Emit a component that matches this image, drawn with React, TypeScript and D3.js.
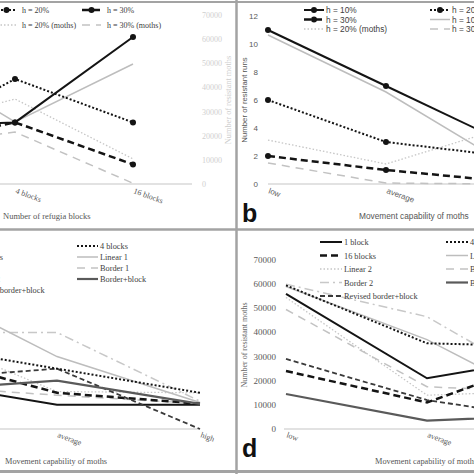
import React, { useEffect, useRef } from 'react';
import * as d3 from 'd3';

// panel a: number of refugia blocks
const refugiaBlocks = ['1 block', '4 blocks', '16 blocks'];
const runsA10 = [4, 4.4, 10.5];
const runsA20 = [3, 7.5, 4.4];
const runsA30 = [2.7, 4.4, 1.4];
const mothsA10 = [55000, 25700, 49700];
const mothsA20 = [22400, 35200, 10400];
const mothsA30 = [15000, 21500, 300];

// panel b: movement capability, by heritability
const capability = ['low', 'average', 'high'];
const runsB10 = [11, 7, 3];
const runsB20 = [6, 3, 2];
const runsB30 = [2, 1, 0.2];
const mothsB10 = [61700, 38100, 8700];
const mothsB20 = [18200, 8300, 23200];
const mothsB30 = [8700, 400, 0];

// panels c and d: refuge layouts
const layoutNames = ['1 block', '16 blocks', 'Linear 2', 'Border 2', 'Revised border+block', '4 blocks', 'Linear 1', 'Border 1', 'Border+block'];
const layoutsC = [
  [20000, 10000, 10000],
  [31000, 15000, 10500],
  [40000, 15500, 15000],
  [40000, 40000, 11500],
  [20500, 25000, 0],
  [35000, 25000, 15000],
  [60000, 30000, 11000],
  [18000, 14000, 10500],
  [16000, 20000, 10400],
];
const layoutsD = [
  [56000, 21000, 31000],
  [24000, 11000, 32000],
  [54500, 14000, 16000],
  [60000, 46500, 13000],
  [29000, 12000, 3000],
  [59500, 35500, 34000],
  [59000, 37000, 7000],
  [49500, 17500, 15000],
  [14500, 3500, 6000],
];
const layoutStyles = ['blackSolid', 'blackDashed', 'greyDotted', 'greyDashDot', 'darkDashed', 'blackDotted', 'greySolid', 'greyDashed', 'darkSolid'];

const lineStyles: Record<string, { stroke: string; width: number; dash: string }> = {
  blackSolid: { stroke: '#141414', width: 2, dash: '' },
  blackDotted: { stroke: '#141414', width: 2, dash: '2,2' },
  blackDashed: { stroke: '#141414', width: 2.5, dash: '7,4' },
  greySolid: { stroke: '#bdbdbd', width: 1.5, dash: '' },
  greyDotted: { stroke: '#c6c6c6', width: 1.3, dash: '1.5,2' },
  greyDashed: { stroke: '#c2c2c2', width: 1.5, dash: '8,6' },
  greyDashDot: { stroke: '#c8c8c8', width: 1.5, dash: '9,4,2,4' },
  darkSolid: { stroke: '#5a5a5a', width: 2.2, dash: '' },
  darkDashed: { stroke: '#3a3a3a', width: 1.8, dash: '5,3' },
};

const SERIF = '"Liberation Serif", "DejaVu Serif", serif';
const SANS = '"Liberation Sans", Arial, sans-serif';
const W = 474;

type Series = { values: number[]; style: string; axis: 'left' | 'right'; marker?: boolean };
type LegendItem = { label: string; style: string; marker?: boolean; col: number; row: number };

function strokeLine(sel: any, key: string) {
  const s = lineStyles[key];
  return sel
    .attr('fill', 'none')
    .attr('stroke', s.stroke)
    .attr('stroke-width', s.width)
    .attr('stroke-dasharray', s.dash || null);
}

function drawPanel(root: any, p: any) {
  const g = root.append('g');
  const x = d3.scalePoint<string>().domain(p.cats).range(p.xRange);
  const yL = d3.scaleLinear().domain(p.leftDomain).range([p.baseY, p.topY]);
  const yR = d3.scaleLinear().domain([0, 70000]).range([p.baseY, p.topYRight]);

  g.append('line')
    .attr('x1', p.axisExtent[0]).attr('x2', p.axisExtent[1])
    .attr('y1', p.baseY).attr('y2', p.baseY)
    .attr('stroke', '#d9d9d9').attr('stroke-width', 1.5);

  // tick labels
  if (p.leftTicks) {
    const t = p.leftTicks;
    g.selectAll('.lt').data(yL.ticks(7)).enter().append('text')
      .attr('x', t.x).attr('y', (d: number) => yL(d) + 3)
      .attr('text-anchor', t.anchor)
      .style('font-family', p.font).style('font-size', t.size + 'px')
      .attr('fill', t.color)
      .text((d: number) => d);
  }
  if (p.rightTicks) {
    const t = p.rightTicks;
    g.selectAll('.rt').data(yR.ticks(7)).enter().append('text')
      .attr('x', t.x).attr('y', (d: number) => yR(d) + 3)
      .attr('text-anchor', t.anchor)
      .style('font-family', p.font).style('font-size', t.size + 'px')
      .attr('fill', t.color)
      .text((d: number) => d);
  }

  (p.axisTitles || []).forEach((t: any) => {
    g.append('text')
      .attr('transform', `translate(${t.x},${t.y}) rotate(${t.rotate || 0})`)
      .attr('text-anchor', t.anchor || 'start')
      .style('font-family', p.font).style('font-size', t.size + 'px')
      .attr('fill', t.color)
      .text(t.text);
  });

  // category labels, slanted; the ones outside the frame are skipped
  const shownCats = p.cats.filter((d: string) => (x(d) as number) >= 0 && (x(d) as number) < W);
  g.selectAll('.cat').data(shownCats).enter().append('text')
    .attr('transform', (d: string) => `translate(${x(d)},${p.catY}) rotate(20)`)
    .style('font-family', p.font).style('font-size', '8px')
    .attr('fill', '#5a5a5a')
    .text((d: string) => d);

  const series: Series[] = p.series;
  series.forEach((s) => {
    const y = s.axis === 'left' ? yL : yR;
    const line = d3.line<number>()
      .x((_, i) => x(p.cats[i]) as number)
      .y((d) => y(d));
    strokeLine(g.append('path').datum(s.values).attr('d', line), s.style);
    if (s.marker) {
      g.selectAll(null).data(s.values).enter().append('circle')
        .attr('cx', (_: number, i: number) => x(p.cats[i]) as number)
        .attr('cy', (d: number) => y(d))
        .attr('r', 3)
        .attr('fill', lineStyles[s.style].stroke);
    }
  });

  const lg = p.legend;
  (lg.items as LegendItem[]).forEach((it) => {
    const tx = lg.cols[it.col];
    const ly = lg.y0 + it.row * lg.dy;
    strokeLine(
      g.append('line').attr('x1', tx - lg.segLen - lg.gap).attr('x2', tx - lg.gap).attr('y1', ly).attr('y2', ly),
      it.style
    );
    if (it.marker) {
      g.append('circle').attr('cx', tx - lg.gap - lg.segLen / 2).attr('cy', ly).attr('r', 3)
        .attr('fill', lineStyles[it.style].stroke);
    }
    const label = g.append('text')
      .attr('x', tx).attr('y', ly + 3)
      .style('font-family', p.font).style('font-size', lg.size + 'px')
      .attr('fill', '#404040')
      .text(it.label);
    // drop labels that end left of the frame
    const box = (label.node() as SVGTextElement).getBBox();
    if (box.x + box.width < 0) label.remove();
  });

  if (p.letter) {
    g.append('text')
      .attr('x', p.letter.x).attr('y', p.letter.y)
      .style('font-family', SANS).style('font-size', '25px').style('font-weight', 'bold')
      .attr('fill', '#111')
      .text(p.letter.text);
  }
}

const layoutLegend = layoutNames.map((label, i) => ({
  label,
  style: layoutStyles[i],
  col: i < 5 ? 0 : 1,
  row: i < 5 ? i : i - 5,
}));
const layoutSeries = (rows: number[][]): Series[] =>
  rows.map((values, i) => ({ values, style: layoutStyles[i], axis: 'right' as const }))
    .sort((a, b) => (a.style.startsWith('grey') ? -1 : 0) - (b.style.startsWith('grey') ? -1 : 0));

const App = () => {
  const ref = useRef<SVGSVGElement>(null);

  useEffect(() => {
    const svg = d3.select(ref.current);
    svg.selectAll('*').remove();

    // a
    drawPanel(svg, {
      font: SERIF,
      cats: refugiaBlocks,
      xRange: [-103, 133],
      axisExtent: [-170, 192],
      baseY: 184, topY: 16, topYRight: 15,
      leftDomain: [0, 12],
      rightTicks: { x: 202, anchor: 'start', size: 8, color: '#cfcfcf' },
      axisTitles: [
        { text: 'Number of resistant moths', x: 231, y: 100, rotate: -90, anchor: 'middle', size: 8.3, color: '#cdcdcd' },
        { text: 'Number of refugia blocks', x: 3, y: 219, size: 8.5, color: '#555' },
      ],
      catY: 193,
      series: [
        { values: mothsA10, style: 'greySolid', axis: 'right' },
        { values: mothsA20, style: 'greyDotted', axis: 'right' },
        { values: mothsA30, style: 'greyDashed', axis: 'right' },
        { values: runsA10, style: 'blackSolid', axis: 'left', marker: true },
        { values: runsA20, style: 'blackDotted', axis: 'left', marker: true },
        { values: runsA30, style: 'blackDashed', axis: 'left', marker: true },
      ],
      legend: {
        cols: [-63, 22, 107], y0: 10, dy: 15, segLen: 19, gap: 6, size: 8,
        items: [
          { label: 'h = 10%', style: 'blackSolid', marker: true, col: 0, row: 0 },
          { label: 'h = 20%', style: 'blackDotted', marker: true, col: 1, row: 0 },
          { label: 'h = 30%', style: 'blackDashed', marker: true, col: 2, row: 0 },
          { label: 'h = 10% (moths)', style: 'greySolid', col: 0, row: 1 },
          { label: 'h = 20% (moths)', style: 'greyDotted', col: 1, row: 1 },
          { label: 'h = 30% (moths)', style: 'greyDashed', col: 2, row: 1 },
        ],
      },
    });

    // b
    drawPanel(svg, {
      font: SANS,
      cats: capability,
      xRange: [268, 504],
      axisExtent: [268, 530],
      baseY: 184, topY: 16, topYRight: 15,
      leftDomain: [0, 12],
      leftTicks: { x: 258, anchor: 'end', size: 8, color: '#595959' },
      axisTitles: [
        { text: 'Number of resistant runs', x: 247, y: 100, rotate: -90, anchor: 'middle', size: 7.8, color: '#555' },
        { text: 'Movement capability of moths', x: 359, y: 219, size: 8.3, color: '#555' },
      ],
      catY: 193,
      series: [
        { values: mothsB10, style: 'greySolid', axis: 'right' },
        { values: mothsB20, style: 'greyDotted', axis: 'right' },
        { values: mothsB30, style: 'greyDashed', axis: 'right' },
        { values: runsB10, style: 'blackSolid', axis: 'left', marker: true },
        { values: runsB20, style: 'blackDotted', axis: 'left', marker: true },
        { values: runsB30, style: 'blackDashed', axis: 'left', marker: true },
      ],
      legend: {
        cols: [326, 452], y0: 10, dy: 9.5, segLen: 20, gap: 2, size: 8.3,
        items: [
          { label: 'h = 10%', style: 'blackSolid', marker: true, col: 0, row: 0 },
          { label: 'h = 20%', style: 'blackDotted', marker: true, col: 1, row: 0 },
          { label: 'h = 30%', style: 'blackDashed', marker: true, col: 0, row: 1 },
          { label: 'h = 10% (moths)', style: 'greySolid', col: 1, row: 1 },
          { label: 'h = 20% (moths)', style: 'greyDotted', col: 0, row: 2 },
          { label: 'h = 30% (moths)', style: 'greyDashed', col: 1, row: 2 },
        ],
      },
      letter: { text: 'b', x: 242, y: 222 },
    });

    // c
    drawPanel(svg, {
      font: SERIF,
      cats: capability,
      xRange: [-86, 200],
      axisExtent: [-86, 200],
      baseY: 429, topY: 260, topYRight: 260,
      leftDomain: [0, 70000],
      axisTitles: [
        { text: 'Movement capability of moths', x: 5, y: 464, size: 8.3, color: '#555' },
      ],
      catY: 437,
      series: layoutSeries(layoutsC),
      legend: { cols: [-29, 100], y0: 246, dy: 11, segLen: 21, gap: 2, size: 8.3, items: layoutLegend },
    });

    // d
    drawPanel(svg, {
      font: SERIF,
      cats: capability,
      xRange: [286, 568],
      axisExtent: [284, 600],
      baseY: 429, topY: 260, topYRight: 260,
      leftDomain: [0, 70000],
      rightTicks: { x: 276, anchor: 'end', size: 9, color: '#595959' },
      axisTitles: [
        { text: 'Number of resistant moths', x: 247, y: 345, rotate: -90, anchor: 'middle', size: 8, color: '#666' },
        { text: 'Movement capability of moths', x: 375, y: 464, size: 8.3, color: '#555' },
      ],
      catY: 437,
      series: layoutSeries(layoutsD),
      legend: { cols: [344, 470], y0: 242, dy: 13.5, segLen: 22, gap: 2, size: 8.3, items: layoutLegend },
      letter: { text: 'd', x: 242, y: 457 },
    });

    // panel frames
    const frame = svg.append('g').attr('stroke', '#a3a3a3').attr('fill', 'none');
    frame.append('line').attr('x1', 0).attr('x2', W).attr('y1', 2).attr('y2', 2).attr('stroke-width', 2);
    frame.append('line').attr('x1', 0).attr('x2', W).attr('y1', 229.5).attr('y2', 229.5).attr('stroke-width', 2.5);
    frame.append('line').attr('x1', 0).attr('x2', W).attr('y1', 471.5).attr('y2', 471.5).attr('stroke-width', 3);
    frame.append('line').attr('x1', 236.5).attr('x2', 236.5).attr('y1', 0).attr('y2', W).attr('stroke-width', 2.5);
  }, []);

  return (
    <div style={{ position: 'absolute', left: 0, top: 0 }}>
      <svg ref={ref} width={W} height={W} style={{ display: 'block', background: '#fff' }} />
    </div>
  );
};

export default App;
